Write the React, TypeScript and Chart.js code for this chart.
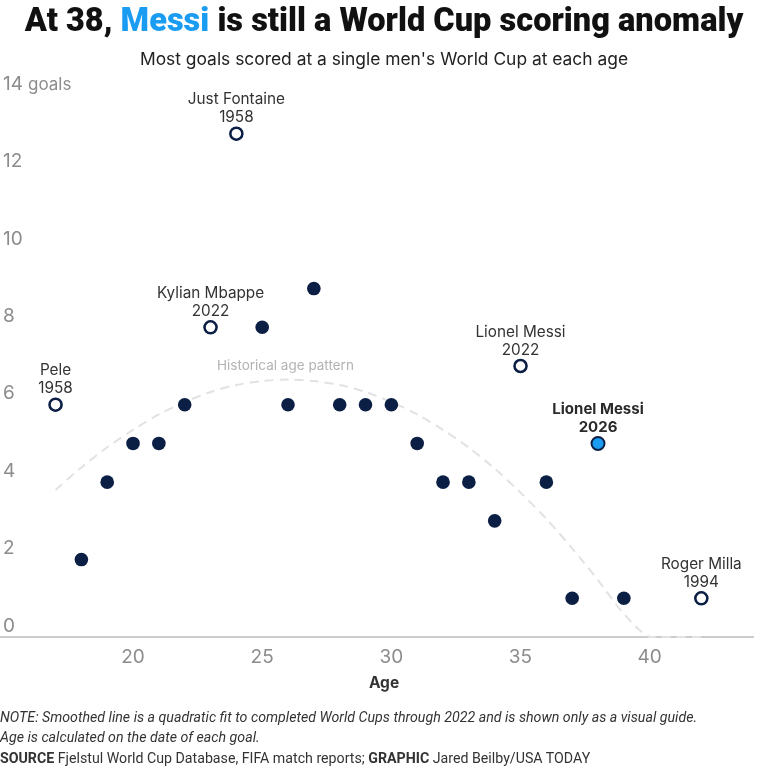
import React, { useEffect, useRef } from "react";
import { Chart, registerables } from "chart.js";

Chart.register(...registerables);

// Most goals scored at a single World Cup, by player age
const ages = [17, 18, 19, 20, 21, 22, 23, 24, 25, 26, 27, 28, 29, 30, 31, 32, 33, 34, 35, 36, 37, 38, 39, 40, 41, 42];
const maxGoals = [6, 2, 4, 5, 5, 6, 8, 13, 8, 6, 9, 6, 6, 6, 5, 4, 4, 3, 7, 4, 1, null, 1, null, null, 1];

// Smoothed historical pattern (quadratic guide, floored at zero)
const trendAges = [17, 18, 19, 20, 21, 22, 23, 24, 25, 26, 27, 28, 29, 30, 31, 32, 33, 34, 35, 36, 37, 38, 39, 40, 41, 42];
const trendGoals = [3.8, 4.38, 4.9, 5.35, 5.75, 6.07, 6.33, 6.51, 6.61, 6.65, 6.61, 6.51, 6.33, 6.07, 5.75, 5.35, 4.89, 4.35, 3.73, 3.05, 2.29, 1.47, 0.6, 0, 0, 0];
const trendLabel = "Historical age pattern";
const trendLabelAge = 25.9;
const trendLabelGoals = 7;

// Named record performances
const highlightNames = ["Pele", "Kylian Mbappe", "Just Fontaine", "Lionel Messi", "Roger Milla"];
const highlightYears = ["1958", "2022", "1958", "2022", "1994"];
const highlightAges = [17, 23, 24, 35, 42];
const highlightGoals = [6, 8, 13, 7, 1];

// Messi at the 2026 tournament
const messiName = "Lionel Messi";
const messiYear = "2026";
const messiAge = 38;
const messiGoals = 5;

const xTicks = [20, 25, 30, 35, 40];
const yTicks = [0, 2, 4, 6, 8, 10, 12, 14];
const yUnit = "goals";
const xTitle = "Age";

const NAVY = "#0b1f45";
const BLUE = "#1a9cf2";
const LABEL = "Inter, 'Noto Sans', sans-serif";
const TICK_SIZE = 19;

const notesPlugin = {
  id: "pointNotes",
  afterDatasetsDraw(chart: any) {
    const { ctx, scales } = chart;
    const x = scales.x;
    const y = scales.y;
    ctx.save();
    ctx.textAlign = "center";
    ctx.textBaseline = "middle";

    ctx.font = `15.3px ${LABEL}`;
    ctx.fillStyle = "#333333";
    highlightAges.forEach((a, i) => {
      const px = x.getPixelForValue(a);
      const py = y.getPixelForValue(highlightGoals[i]);
      ctx.fillText(highlightNames[i], px, py - 34);
      ctx.fillText(highlightYears[i], px, py - 16);
    });

    ctx.font = `bold 15px ${LABEL}`;
    ctx.fillStyle = "#2a2a2a";
    const mx = x.getPixelForValue(messiAge);
    const my = y.getPixelForValue(messiGoals);
    ctx.fillText(messiName, mx, my - 34);
    ctx.fillText(messiYear, mx, my - 16);

    ctx.font = `13.5px ${LABEL}`;
    ctx.fillStyle = "#b3b3b3";
    ctx.fillText(trendLabel, x.getPixelForValue(trendLabelAge), y.getPixelForValue(trendLabelGoals));

    // unit next to the top y tick
    ctx.font = `${TICK_SIZE}px ${LABEL}`;
    const topLabel = String(yTicks[yTicks.length - 1]);
    const w = ctx.measureText(topLabel).width;
    ctx.font = `17px ${LABEL}`;
    ctx.textAlign = "left";
    ctx.textBaseline = "alphabetic";
    ctx.fillStyle = "#8c8c8c";
    ctx.fillText(yUnit, y.right + 3 + w + 5, y.getPixelForValue(yTicks[yTicks.length - 1]) - 5);
    ctx.restore();
  },
};

function App() {
  const canvasRef = useRef<HTMLCanvasElement | null>(null);

  useEffect(() => {
    if (!canvasRef.current) return;
    const chart = new Chart(canvasRef.current, {
      type: "scatter",
      data: {
        datasets: [
          {
            label: "Messi 2026",
            data: [{ x: messiAge, y: messiGoals }],
            backgroundColor: BLUE,
            borderColor: NAVY,
            borderWidth: 2,
            pointRadius: 6.5,
            order: 1,
            clip: false,
          },
          {
            label: "Highlights",
            data: highlightAges.map((a, i) => ({ x: a, y: highlightGoals[i] })),
            backgroundColor: "#ffffff",
            borderColor: NAVY,
            borderWidth: 2.5,
            pointRadius: 6,
            order: 2,
            clip: false,
          },
          {
            label: "Most goals",
            data: ages
              .map((a, i) => ({ x: a, y: maxGoals[i] }))
              .filter((p) => p.y !== null) as any,
            backgroundColor: NAVY,
            borderColor: NAVY,
            borderWidth: 0,
            pointRadius: 6.8,
            order: 3,
            clip: false,
          },
          {
            label: "Trend",
            data: trendAges.map((a, i) => ({ x: a, y: trendGoals[i] })),
            showLine: true,
            borderColor: "#e2e2e2",
            borderWidth: 2,
            borderDash: [9, 6],
            pointRadius: 0,
            tension: 0.3,
            order: 4,
            clip: false,
          },
        ],
      },
      options: {
        animation: false,
        responsive: true,
        maintainAspectRatio: false,
        layout: { autoPadding: false, padding: { top: 95, right: 15, left: 0, bottom: 0 } },
        plugins: { legend: { display: false }, tooltip: { enabled: false } },
        scales: {
          x: {
            type: "linear",
            min: 14.85,
            max: 44,
            afterBuildTicks: (s: any) => {
              s.ticks = xTicks.map((v) => ({ value: v }));
            },
            afterFit: (s: any) => {
              s.height = 131;
              s.paddingLeft = 0;
              s.paddingRight = 0;
            },
            grid: { display: false, drawTicks: false },
            border: { display: true, color: "#cccccc", width: 2 },
            ticks: {
              color: "#8c8c8c",
              font: { family: LABEL, size: TICK_SIZE },
              padding: 9,
              maxRotation: 0,
            },
          },
          y: {
            type: "linear",
            min: 0,
            max: 14,
            afterBuildTicks: (s: any) => {
              s.ticks = yTicks.map((v) => ({ value: v }));
            },
            afterFit: (s: any) => {
              s.width = 0;
              s.paddingTop = 0;
              s.paddingBottom = 0;
            },
            grid: { display: false, drawTicks: false },
            border: { display: false },
            ticks: {
              mirror: true,
              padding: 3,
              labelOffset: -11,
              color: "#8c8c8c",
              font: { family: LABEL, size: TICK_SIZE },
            },
          },
        },
      },
      plugins: [notesPlugin],
    });
    return () => chart.destroy();
  }, []);

  return (
    <div style={{ position: "absolute", left: 0, top: 0, width: 768, height: 768, background: "#ffffff", overflow: "hidden" }}>
      <div style={{ position: "absolute", left: 0, top: 0, width: 768, height: 768 }}>
        <canvas ref={canvasRef} />
      </div>
      <div
        style={{
          position: "absolute",
          left: 0,
          top: 1,
          width: 768,
          textAlign: "center",
          fontFamily: "Roboto, sans-serif",
          fontWeight: 900,
          fontSize: 32.6,
          lineHeight: "38px",
          color: "#111111",
          whiteSpace: "nowrap",
        }}
      >
        At 38, <span style={{ color: BLUE }}>Messi</span> is still a World Cup scoring anomaly
      </div>
      <div
        style={{
          position: "absolute",
          left: 0,
          top: 47,
          width: 768,
          textAlign: "center",
          fontFamily: LABEL,
          fontSize: 17.4,
          lineHeight: "24px",
          color: "#222222",
          whiteSpace: "nowrap",
        }}
      >
        Most goals scored at a single men's World Cup at each age
      </div>
      <div
        style={{
          position: "absolute",
          left: 0,
          top: 673,
          width: 768,
          textAlign: "center",
          fontFamily: LABEL,
          fontWeight: 700,
          fontSize: 15.5,
          lineHeight: "20px",
          color: "#333333",
        }}
      >
        {xTitle}
      </div>
      <div
        style={{
          position: "absolute",
          left: 0,
          top: 707,
          width: 768,
          fontFamily: "Roboto, sans-serif",
          fontSize: 14.2,
          lineHeight: "20px",
          color: "#333333",
          whiteSpace: "nowrap",
        }}
      >
        <div style={{ fontStyle: "italic" }}>
          NOTE: Smoothed line is a quadratic fit to completed World Cups through 2022 and is shown only as a visual guide.
        </div>
        <div style={{ fontStyle: "italic" }}>Age is calculated on the date of each goal.</div>
        <div style={{ marginTop: 1 }}>
          <b>SOURCE</b> Fjelstul World Cup Database, FIFA match reports; <b>GRAPHIC</b> Jared Beilby/USA TODAY
        </div>
      </div>
    </div>
  );
}

export default App;
